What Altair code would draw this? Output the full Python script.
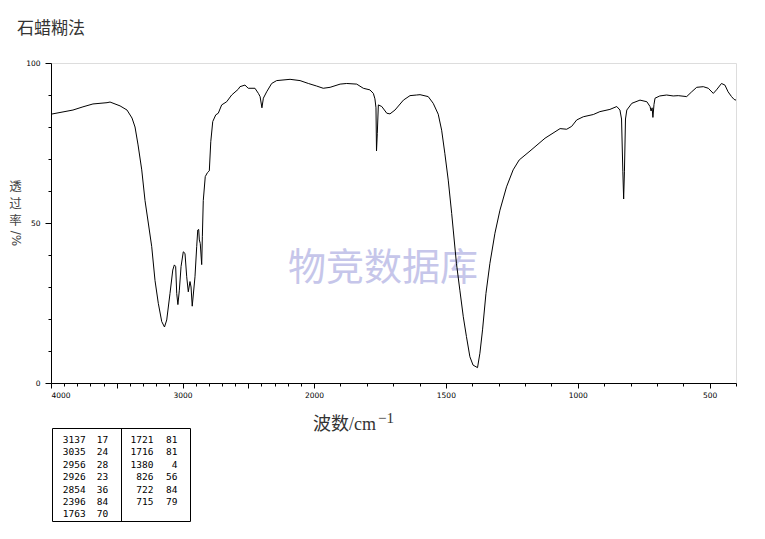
import altair as alt
import pandas as pd

# ---- spectrum (wavenumber cm-1, transmittance %) ----
wavenumber = [4000, 3833, 3757, 3681, 3574, 3551, 3475, 3422, 3384, 3361,
              3338, 3310, 3285, 3260, 3234, 3209, 3184, 3158, 3137, 3120,
              3095, 3074, 3062, 3052, 3044, 3035, 3024, 3011, 2994, 2981,
              2968, 2956, 2943, 2935, 2926, 2905, 2892, 2884, 2877, 2872,
              2865, 2854, 2849, 2842, 2827, 2811, 2796, 2785, 2770, 2747,
              2728, 2702, 2664, 2626, 2576, 2563, 2525, 2500, 2449, 2423,
              2410, 2396, 2385, 2360, 2322, 2284, 2182, 2106, 2043, 1990,
              1965, 1939, 1901, 1876, 1838, 1813, 1788, 1775, 1769, 1765,
              1763, 1760, 1756, 1743, 1724, 1712, 1693, 1661, 1636, 1611,
              1598, 1567, 1548, 1529, 1516, 1504, 1491, 1478, 1472, 1460,
              1447, 1434, 1422, 1409, 1397, 1380, 1371, 1361, 1348, 1333,
              1314, 1295, 1270, 1245, 1222, 1181, 1124, 1067, 1042, 1023,
              1004, 979, 941, 916, 878, 852, 840, 834, 829, 826,
              823, 819, 814, 795, 764, 738, 726, 722, 718, 715,
              711, 707, 689, 663, 638, 619, 587, 568, 549, 524,
              505, 486, 474, 455, 442, 430, 417, 407, 400]
transmittance = [84.0, 85.3, 86.3, 87.2, 87.6, 87.8, 86.6, 85.3, 82.8, 80.0,
                 74.4, 66.6, 57.0, 50.0, 42.6, 32.0, 24.9, 19.2, 17.5, 19.7,
                 28.0, 35.3, 36.9, 36.4, 28.0, 24.5, 29.0, 36.4, 41.0, 40.5,
                 33.2, 28.5, 31.7, 30.0, 24.0, 33.2, 42.6, 47.8, 48.0, 44.7,
                 43.6, 37.0, 45.7, 57.0, 64.5, 65.7, 66.3, 75.4, 81.7, 83.8,
                 84.3, 86.9, 87.9, 90.0, 91.8, 92.6, 93.1, 92.1, 92.1, 90.5,
                 89.5, 86.0, 89.0, 91.0, 93.6, 94.5, 94.9, 94.5, 93.6, 92.8,
                 92.1, 92.4, 93.4, 93.6, 93.4, 92.1, 91.6, 90.5, 88.8, 86.0,
                 72.5, 78.0, 86.9, 86.4, 84.3, 84.1, 85.3, 88.4, 89.8, 90.0,
                 90.1, 89.5, 87.4, 84.0, 79.0, 71.8, 63.4, 53.0, 47.8, 37.4,
                 29.0, 20.7, 14.5, 8.2, 5.6, 4.8, 9.3, 16.6, 28.0, 37.4,
                 46.8, 54.0, 61.3, 66.6, 69.7, 72.5, 76.5, 79.5, 79.3, 80.2,
                 82.2, 83.2, 83.9, 84.8, 85.5, 86.4, 85.3, 82.5, 66.0, 57.5,
                 66.0, 82.5, 85.3, 87.4, 88.4, 87.9, 86.4, 85.0, 86.0, 83.0,
                 87.0, 89.0, 89.7, 90.0, 89.7, 89.8, 89.5, 91.0, 92.4, 92.6,
                 92.1, 90.5, 91.6, 93.6, 93.1, 91.0, 89.5, 88.6, 88.4]

# ---- axis ticks / labels ----
x_tick_values = list(range(4000, 399, -100))
x_label_values = [4000, 3000, 2000, 1500, 1000, 500]
y_tick_values = list(range(0, 101, 10))
y_label_values = [0, 50, 100]

# ---- peak table ----
peak_wn_1 = ["3137", "3035", "2956", "2926", "2854", "2396", "1763"]
peak_t_1 = ["17", "24", "28", "23", "36", "84", "70"]
peak_wn_2 = ["1721", "1716", "1380", "826", "722", "715"]
peak_t_2 = ["81", "81", "4", "56", "84", "79"]

title_text = "石蜡糊法"
watermark = "物竞数据库"
y_title_chars = ["透", "过", "率"]

df = pd.DataFrame({"wn": wavenumber, "t": transmittance})
one = pd.DataFrame({"k": [0]})

W, H = 685, 320

x_label_expr = "indexof([" + ",".join(str(v) for v in x_label_values) + "], datum.value) >= 0 ? datum.value : ''"
y_label_expr = "indexof([" + ",".join(str(v) for v in y_label_values) + "], datum.value) >= 0 ? datum.value : ''"

xscale = alt.Scale(domain=[4000, 2000, 400], range=[0, 263, W], nice=False, zero=False)
yscale = alt.Scale(domain=[0, 100], nice=False, zero=False)

line = alt.Chart(df).mark_line(color="black", strokeWidth=1, interpolate="linear").encode(
    x=alt.X("wn:Q", scale=xscale, title=None,
            axis=alt.Axis(values=x_tick_values, labelExpr=x_label_expr,
                          tickSize={"condition": {"test": "datum.value % 500 === 0", "value": 5}, "value": 3},
                          labelFlush=True, labelOverlap=False, grid=False,
                          labelFont="DejaVu Sans", labelFontSize=7.5, labelColor="black",
                          labelPadding=3, domainColor="black", tickColor="black")),
    y=alt.Y("t:Q", scale=yscale, title=None,
            axis=alt.Axis(values=y_tick_values, labelExpr=y_label_expr,
                          tickSize={"condition": {"test": "datum.value % 50 === 0", "value": 6}, "value": 3},
                          labelOverlap=False, grid=False,
                          labelFont="DejaVu Sans", labelFontSize=7.5, labelColor="black",
                          labelPadding=5, domainColor="black", tickColor="black")),
)

def txt(text, x, y, **kw):
    return alt.Chart(one).mark_text(text=text, **kw).encode(x=alt.value(x), y=alt.value(y))

wm = txt(watermark, 332, 206, font="Noto Sans CJK SC", fontSize=38, color="#c6c6ea",
         align="center", baseline="middle", angle=0)
title = txt(title_text, -34, -34, font="Noto Sans CJK SC", fontSize=17, color="#333333",
            align="left", baseline="middle", angle=0)
ytitle = txt(y_title_chars, -35.5, 123.5, font="Noto Sans CJK SC", fontSize=12.5,
             lineHeight=17, color="#444444", align="center", baseline="middle", angle=0)
ytitle2 = txt("/%", -35.5, 175.5, font="DejaVu Sans", fontSize=12, angle=90,
              color="#444444", align="center", baseline="middle")
xtitle = txt("波数/cm", 262, 367, font="Liberation Serif, Noto Sans CJK SC", fontSize=18,
             color="#333333", align="left", baseline="alphabetic", angle=0)
xsup = txt("−1", 327, 360, font="Liberation Serif", fontSize=15, color="#333333",
           align="left", baseline="alphabetic", angle=0)

# table (positions relative to plot origin)
box = alt.Chart(one).mark_rect(fill=None, stroke="black", strokeWidth=1).encode(
    x=alt.value(1.5), x2=alt.value(139.5), y=alt.value(365.5), y2=alt.value(458.5))
div = alt.Chart(one).mark_rule(color="black", strokeWidth=1).encode(
    x=alt.value(70.5), y=alt.value(365.5), y2=alt.value(458.5))
tfont = dict(font="DejaVu Sans Mono", fontSize=9.5, lineHeight=12.4, color="black",
             baseline="middle", angle=0)
c1 = txt(peak_wn_1, 34.7, 377, align="right", **tfont)
c2 = txt(peak_t_1, 57.3, 377, align="right", **tfont)
c3 = txt(peak_wn_2, 102.5, 377, align="right", **tfont)
c4 = txt(peak_t_2, 126.5, 377, align="right", **tfont)

chart = alt.layer(wm, line, title, ytitle, ytitle2, xtitle, xsup, box, div, c1, c2, c3, c4).properties(
    width=W, height=H,
    autosize=alt.AutoSizeParams(type="none"),
    padding={"left": 43, "top": 55, "right": 21, "bottom": 148},
).configure_view(stroke="black", strokeWidth=1).configure(background="white")

chart.save("out.html", embed_options={"renderer": "svg", "actions": False})
